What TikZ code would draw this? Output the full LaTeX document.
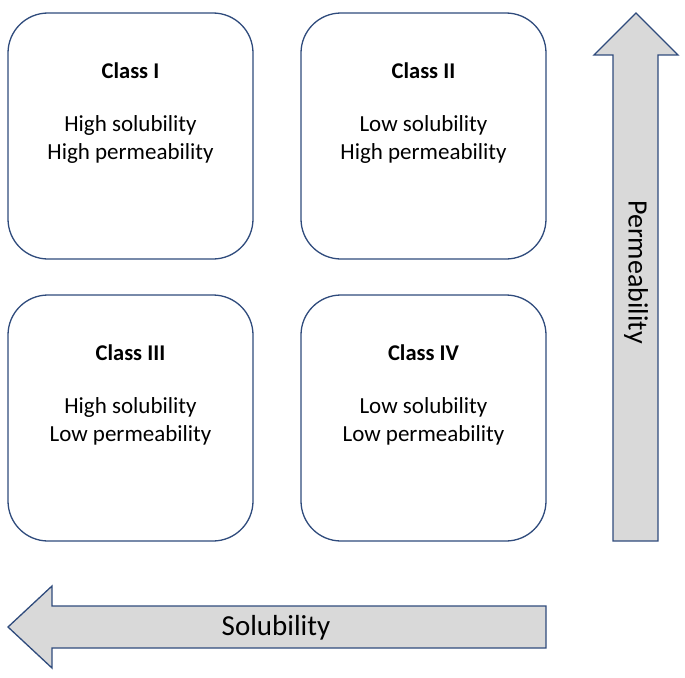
\documentclass[tikz,border=0pt]{standalone}
\usepackage{fontspec}
\setmainfont{Carlito}
\usetikzlibrary{positioning}
\definecolor{edge}{RGB}{47,75,124}
\definecolor{arrowfill}{RGB}{217,217,217}
\tikzset{
  classbox/.style={draw=edge, line width=1.3pt, rounded corners=40pt, minimum width=245pt, minimum height=246pt, fill=white},
  classtext/.style={align=center, font=\fontsize{23}{28}\selectfont},
  classtitle/.style={font=\bfseries\fontsize{22.5}{28}\selectfont},
  bigarrow/.style={draw=edge, line width=1.3pt, fill=arrowfill}
}
\begin{document}
\begin{tikzpicture}[x=1pt, y=-1pt]
  \useasboundingbox (0,0) rectangle (685,677);
  % the four classes
  \node[classbox] (c1) at (130.5,136) {};
  \node[classbox] (c2) at (423.5,136) {};
  \node[classbox] (c3) at (130.5,418) {};
  \node[classbox] (c4) at (423.5,418) {};
  \node[classtitle] at (130.5,71) {Class I};
  \node[classtext] at (130.5,139) {High solubility\\High permeability};
  \node[classtitle] at (423.5,71) {Class II};
  \node[classtext] at (423.5,139) {Low solubility\\High permeability};
  \node[classtitle] at (130.5,353) {Class III};
  \node[classtext] at (130.5,421) {High solubility\\Low permeability};
  \node[classtitle] at (423.5,353) {Class IV};
  \node[classtext] at (423.5,421) {Low solubility\\Low permeability};
  % axes arrows
  \draw[bigarrow] (613,541) -- (613,55) -- (594,55) -- (636,13) -- (678,55) -- (658,55) -- (658,541) -- cycle;
  \node[rotate=-90, font=\fontsize{28}{30}\selectfont] (perm) at (636,272) {Permeability};
  \draw[bigarrow] (546,606) -- (52,606) -- (52,586) -- (8,627) -- (52,668) -- (52,648) -- (546,648) -- cycle;
  \node[font=\fontsize{29}{30}\selectfont] (sol) at (276,628) {Solubility};
\end{tikzpicture}
\end{document}
